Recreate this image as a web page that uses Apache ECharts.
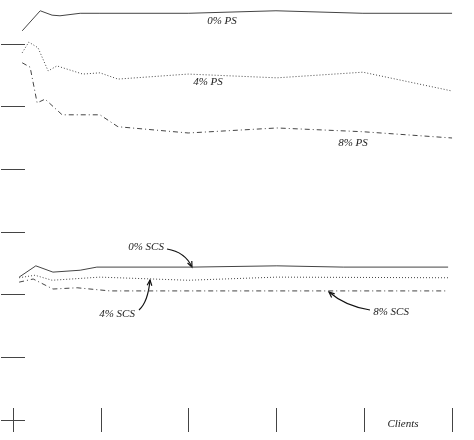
<!DOCTYPE html>
<html>
<head>
<meta charset="utf-8">
<script src="https://cdn.jsdelivr.net/npm/echarts@6/dist/echarts.min.js"></script>
<style>html,body{margin:0;padding:0;background:#fff}#chart{width:474px;height:440px}</style>
</head>
<body>
<div id="chart"></div>
<script>
// clients on x, throughput-ish units on y (no labels in the original)
var ps0X = [2.1, 6.2, 8.9, 10.7, 15.3, 19.8, 39.9, 59.9, 79.7, 100];
var ps0Y = [62.1, 65.3, 64.6, 64.5, 64.9, 64.9, 64.9, 65.3, 64.9, 64.9];
var ps4X = [2.1, 3.6, 5.7, 8.0, 10.0, 15.9, 19.8, 23.9, 39.9, 60.1, 79.7, 100];
var ps4Y = [58.6, 60.3, 59.4, 55.7, 56.5, 55.2, 55.4, 54.4, 55.2, 54.6, 55.5, 52.5];
var ps8X = [2.1, 3.9, 5.5, 7.3, 11.2, 19.8, 23.9, 39.9, 60.1, 79.7, 100];
var ps8Y = [57.0, 56.3, 50.6, 51.2, 48.7, 48.7, 46.8, 45.8, 46.6, 46.0, 45.0];
var scs0X = [1.4, 5.2, 9.1, 15.3, 19.1, 40.8, 60.1, 75.2, 99.1];
var scs0Y = [22.8, 24.6, 23.6, 23.9, 24.4, 24.4, 24.6, 24.4, 24.4];
var scs4X = [1.4, 5.0, 8.9, 19.8, 39.9, 60.1, 99.1];
var scs4Y = [22.7, 23.1, 22.3, 22.8, 22.3, 22.8, 22.7];
var scs8X = [1.4, 4.6, 9.1, 14.6, 22.1, 39.9, 99.1];
var scs8Y = [22.0, 22.5, 20.9, 21.1, 20.6, 20.6, 20.6];
var xTicks = [0, 20, 40, 60, 80, 100];
var yTicks = [0, 10, 20, 30, 40, 50, 60];

var chart = echarts.init(document.getElementById('chart'));
var ink = '#444';
var font = 'italic 11px "Liberation Serif", "DejaVu Serif", serif';

function pairs(xs, ys) {
  return xs.map(function (x, i) { return [x, ys[i]]; });
}
function line(name, xs, ys, type) {
  return {
    name: name, type: 'line', data: pairs(xs, ys), symbol: 'none', clip: false,
    lineStyle: { color: ink, width: 1, type: type }
  };
}
function yAxis(pos) {
  return {
    type: 'value', position: pos, min: -3.19, max: 67.02,
    axisLine: { show: false }, splitLine: { show: false }, axisLabel: { show: false },
    axisTick: { show: true, inside: true, length: 12, customValues: yTicks, lineStyle: { color: ink } }
  };
}
function xAxis(pos) {
  return {
    type: 'value', position: pos, min: -2.96, max: 105.0,
    axisLine: { show: false }, splitLine: { show: false }, axisLabel: { show: false },
    axisTick: { show: true, inside: true, length: 12, customValues: xTicks, lineStyle: { color: ink } }
  };
}
function label(text, x, y) {
  return { type: 'text', x: x, y: y, style: { text: text, font: font, fill: '#222', align: 'center', verticalAlign: 'middle' } };
}
function arrow(x1, y1, cx, cy, x2, y2) {
  var a = Math.atan2(y2 - cy, x2 - cx), l = 6;
  return [
    { type: 'bezierCurve', shape: { x1: x1, y1: y1, x2: x2, y2: y2, cpx1: cx, cpy1: cy },
      style: { stroke: '#111', lineWidth: 1.2, fill: null } },
    { type: 'polyline', shape: { points: [
      [x2 - l * Math.cos(a - 0.4), y2 - l * Math.sin(a - 0.4)], [x2, y2],
      [x2 - l * Math.cos(a + 0.4), y2 - l * Math.sin(a + 0.4)]] },
      style: { stroke: '#111', lineWidth: 1.2, fill: null } }
  ];
}

chart.setOption({
  animation: false,
  grid: { left: 0, right: 0, top: 0, bottom: 0 },
  xAxis: [xAxis('top'), xAxis('bottom')],
  yAxis: [yAxis('left'), yAxis('right')],
  series: [
    line('0% PS', ps0X, ps0Y, 'solid'),
    line('4% PS', ps4X, ps4Y, [1, 2]),
    line('8% PS', ps8X, ps8Y, [5, 3, 1, 3]),
    line('0% SCS', scs0X, scs0Y, 'solid'),
    line('4% SCS', scs4X, scs4Y, [1, 2]),
    line('8% SCS', scs8X, scs8Y, [5, 3, 1, 3])
  ],
  graphic: [
    label('0% PS', 222, 21),
    label('4% PS', 208, 82),
    label('8% PS', 353, 143),
    label('0% SCS', 146, 247),
    label('4% SCS', 117, 314),
    label('8% SCS', 391, 312),
    label('Clients', 403, 424)
  ].concat(arrow(167, 249, 185, 252, 192, 267))
   .concat(arrow(139, 310, 148, 302, 150, 280))
   .concat(arrow(370, 310, 345, 306, 329, 292))
});
</script>
</body>
</html>
